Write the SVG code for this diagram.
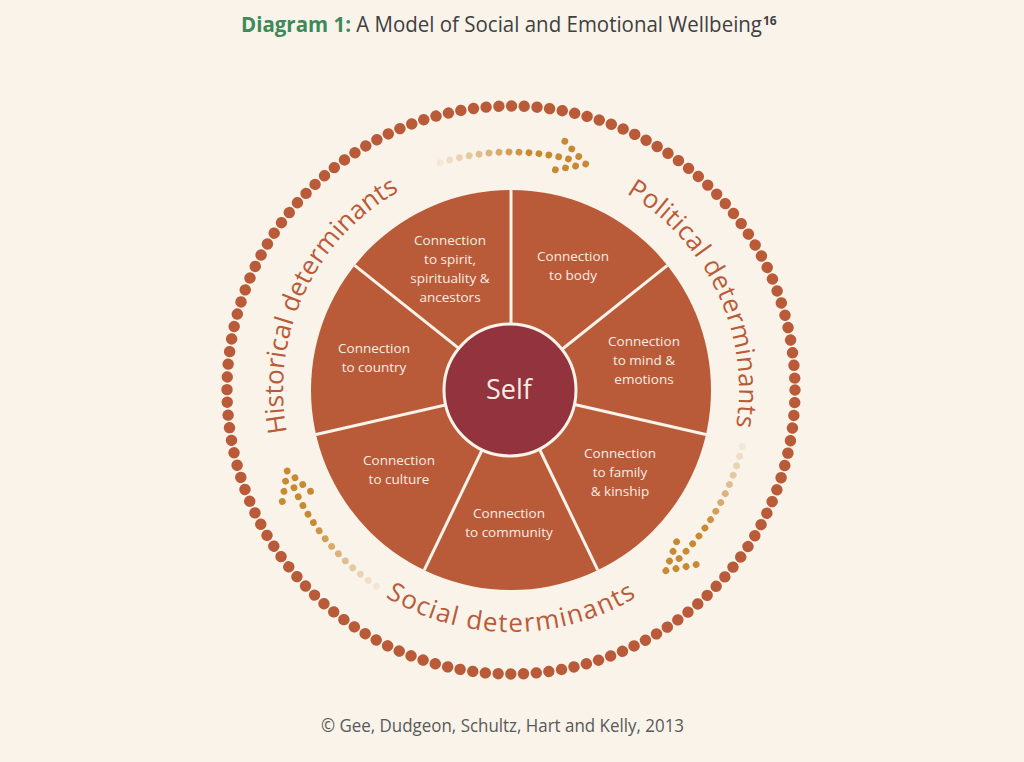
<svg xmlns="http://www.w3.org/2000/svg" xmlns:xlink="http://www.w3.org/1999/xlink" width="1024" height="762" viewBox="0 0 1024 762">
<style>
.lbl{font-family:"Open Sans","Noto Sans",sans-serif;font-size:13.5px;fill:#f8ece4;text-anchor:middle}
.arc{font-family:"Open Sans","Noto Sans",sans-serif;font-size:26px;fill:#b95b38}
.sep{stroke:#f9f3ea;stroke-width:3;stroke-linecap:butt}
.ad{fill:#c78a33}
</style>
<defs>
<path id="pHist" d="M324.23,520.78 A228,228 0 0 1 491.13,162.87"/>
<path id="pPol" d="M530.08,162.80 A228,228 0 0 1 698.22,520.12"/>
<path id="pSoc" d="M301.42,511 A242,242 0 0 0 720.58,511"/>
<g id="arrowShape">
<circle class="ad" r="3.4" cx="238" cy="0"/>
<circle class="ad" r="3.4" cx="243" cy="-9"/>
<circle class="ad" r="3.4" cx="233" cy="-9"/>
<circle class="ad" r="3.4" cx="248" cy="-18"/>
<circle class="ad" r="3.4" cx="228" cy="-18"/>
<circle class="ad" r="3.4" cx="253" cy="-27"/>
<circle class="ad" r="3.4" cx="223" cy="-27"/>
<circle class="ad" r="3.4" cx="237.32" cy="-17.98"/>
<circle class="ad" r="3.4" cx="236.35" cy="-27.94"/>
<circle class="ad" r="3.4" cx="234.97" cy="-37.84"/>
<circle class="ad" r="3.4" cx="233.18" cy="-47.68"/>
<circle class="ad" r="3.4" cx="230.97" cy="-57.42"/>
<circle class="ad" r="3.4" cx="228.35" cy="-67.08" fill-opacity="0.9"/>
<circle class="ad" r="3.4" cx="225.33" cy="-76.61" fill-opacity="0.8"/>
<circle class="ad" r="3.4" cx="221.91" cy="-86.01" fill-opacity="0.7"/>
<circle class="ad" r="3.4" cx="218.10" cy="-95.26" fill-opacity="0.6"/>
<circle class="ad" r="3.4" cx="213.91" cy="-104.33" fill-opacity="0.5"/>
<circle class="ad" r="3.4" cx="209.34" cy="-113.23" fill-opacity="0.4"/>
<circle class="ad" r="3.4" cx="204.40" cy="-121.91" fill-opacity="0.3"/>
<circle class="ad" r="3.4" cx="199.10" cy="-130.39" fill-opacity="0.2"/>
<circle class="ad" r="3.4" cx="193.44" cy="-138.65" fill-opacity="0.1"/>
</g>
</defs>
<rect width="1024" height="762" fill="#f9f3ea"/>

<g id="title" font-family="'Open Sans','Noto Sans',sans-serif">
<text x="241" y="32" font-size="21" fill="#404040" textLength="521" lengthAdjust="spacingAndGlyphs"><tspan font-weight="bold" fill="#3d8a59">Diagram 1:</tspan> A Model of Social and Emotional Wellbeing</text>
<text x="763" y="25" font-size="12" font-weight="bold" fill="#404040">16</text>
</g>

<g id="outer-ring">
<circle cx="511" cy="390" r="284" fill="none" stroke="#b95b38" stroke-width="11.4" stroke-linecap="round" stroke-dasharray="0.01 12.736"/>
</g>

<g id="arrows">
<use xlink:href="#arrowShape" href="#arrowShape" transform="translate(511,390) rotate(-71.7)"/>
<use xlink:href="#arrowShape" href="#arrowShape" transform="translate(511,390) rotate(49.4)"/>
<use xlink:href="#arrowShape" href="#arrowShape" transform="translate(511,390) rotate(160.1)"/>
</g>

<g id="determinants">
<text class="arc"><textPath xlink:href="#pHist" href="#pHist" startOffset="50%" text-anchor="middle" textLength="284" lengthAdjust="spacing">Historical determinants</textPath></text>
<text class="arc"><textPath xlink:href="#pPol" href="#pPol" startOffset="50%" text-anchor="middle" textLength="274" lengthAdjust="spacing">Political determinants</textPath></text>
<text class="arc"><textPath xlink:href="#pSoc" href="#pSoc" startOffset="50%" text-anchor="middle" textLength="264" lengthAdjust="spacing">Social determinants</textPath></text>
</g>

<g id="wheel">
<circle cx="511" cy="390" r="200" fill="#b95b38"/>
</g>

<g id="connectors">
<line class="sep" x1="511" y1="390" x2="511" y2="190"/>
<line class="sep" x1="511" y1="390" x2="667.37" y2="265.30"/>
<line class="sep" x1="511" y1="390" x2="705.99" y2="434.50"/>
<line class="sep" x1="511" y1="390" x2="597.78" y2="570.19"/>
<line class="sep" x1="511" y1="390" x2="424.22" y2="570.19"/>
<line class="sep" x1="511" y1="390" x2="316.01" y2="434.50"/>
<line class="sep" x1="511" y1="390" x2="354.63" y2="265.30"/>
</g>

<g id="spirit"><text class="lbl"><tspan x="450" y="245">Connection</tspan><tspan x="450" y="264">to spirit,</tspan><tspan x="450" y="283">spirituality &amp;</tspan><tspan x="450" y="302">ancestors</tspan></text></g>
<g id="body"><text class="lbl"><tspan x="573" y="261">Connection</tspan><tspan x="573" y="280">to body</tspan></text></g>
<g id="mind"><text class="lbl"><tspan x="644" y="346">Connection</tspan><tspan x="644" y="365">to mind &amp;</tspan><tspan x="644" y="384">emotions</tspan></text></g>
<g id="family"><text class="lbl"><tspan x="620" y="458">Connection</tspan><tspan x="620" y="477">to family</tspan><tspan x="620" y="496">&amp; kinship</tspan></text></g>
<g id="community"><text class="lbl"><tspan x="509" y="518">Connection</tspan><tspan x="509" y="537">to community</tspan></text></g>
<g id="culture"><text class="lbl"><tspan x="399" y="465">Connection</tspan><tspan x="399" y="484">to culture</tspan></text></g>
<g id="country"><text class="lbl"><tspan x="374" y="353">Connection</tspan><tspan x="374" y="372">to country</tspan></text></g>

<g id="self">
<circle cx="510" cy="390" r="66" fill="#93333d" stroke="#f9f3ea" stroke-width="3"/>
<text x="509" y="399" font-family="'Open Sans','Noto Sans',sans-serif" font-size="27" fill="#f8ece4" text-anchor="middle">Self</text>
</g>

<g id="credit">
<text x="321" y="732" font-family="'Open Sans','Noto Sans',sans-serif" font-size="18" fill="#595959" textLength="363" lengthAdjust="spacingAndGlyphs">© Gee, Dudgeon, Schultz, Hart and Kelly, 2013</text>
</g>
</svg>
